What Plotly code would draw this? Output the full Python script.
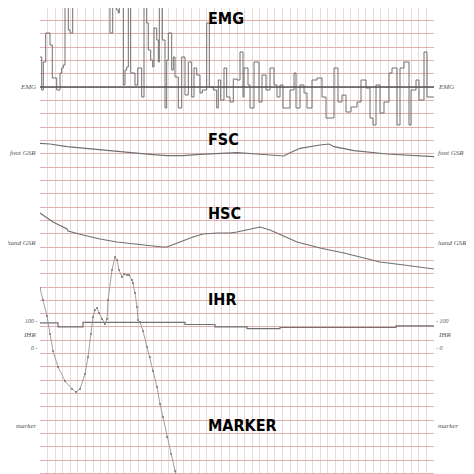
import plotly.graph_objects as go

# time axis: samples across the strip (0 .. 394)
t_end = 394

# EMG (µV), step values starting at emg_t
emg_t = [0, 1.7, 3.3, 5.7, 10, 12.3, 16.7, 20, 21.7, 23.3, 25, 28.3, 30, 32.7, 45, 58, 70, 72.7, 75, 76.7,
         78.3, 79.3, 83.3, 85, 86.7, 88.3, 90.7, 95, 97.7, 101.7, 104, 106.7, 108.3, 110.7, 112.7, 114, 116.7,
         118.3, 119.3, 122.3, 125, 126.7, 128.3, 131.7, 133.3, 135, 138.3, 141.7, 145, 148.3, 151.7, 154, 156.7,
         160, 162.3, 166.7, 169.3, 173.3, 176.7, 178.3, 180.7, 184, 186.7, 190, 193.3, 197, 200, 203, 204, 208,
         210, 214, 219, 222, 226, 230, 234, 237, 240, 243, 250, 254, 256, 260, 264, 267, 272, 277, 282, 286,
         294, 298, 302, 306, 311, 317, 321, 326, 330, 333, 336, 340, 344, 349, 352, 357, 360, 364, 369, 371,
         376, 379, 384, 387, 394]
emg_uv = [30, -3, 25, 54, 42, 9, -3, 14, 19, 22, 110, 57, 54, 130, 150, 120, 54, 95, 82, 77,
          74, 110, 2, 17, 20, 100, 14, 2, 19, -10, 100, 64, 37, 27, 20, 59, 47, 25, 80, 47,
          -21, 27, 54, 17, 30, 10, -21, 30, -8, 25, -10, 19, 12, -6, -3, 64, 0, -3, -21, 7,
          -13, 19, -10, -15, 8, 7, 35, -10, 19, 2, -21, 25, -15, 12, -3, 19, 2, -10, 2, -21,
          -3, 14, -21, 2, -6, -21, 7, 9, -10, -31, 19, -15, -8, -25, -20, -15, 7, -1, -31, -38,
          2, -26, -15, 14, 19, -38, 19, 25, -38, -3, 7, -13, 35, -10, -10]

# foot skin conductance
fsc_t = [0, 10, 27, 43, 60, 77, 93, 110, 127, 143, 160, 177, 197, 217, 244, 249, 260, 280, 289, 294, 314, 347, 394]
fsc = [0.97, 0.9, 0.63, 0.47, 0.37, 0.13, -0.03, -0.13, -0.27, -0.27, -0.13, -0.03, 0.03, -0.1, -0.3, -0.03,
       0.47, 0.8, 0.9, 0.63, 0.23, -0.1, -0.37]

# hand skin conductance
hsc_t = [0, 13, 27, 28, 43, 60, 77, 93, 110, 122, 127, 140, 153, 163, 177, 190, 197, 220, 230, 257, 280, 304,
         340, 364, 394]
hsc = [3.0, 2.1, 1.4, 1.2, 0.8, 0.4, 0.1, -0.1, -0.3, -0.4, -0.4, 0.1, 0.6, 0.9, 1.0, 1.0, 1.1, 1.6, 1.3, 0.1,
       -0.5, -1.0, -1.9, -2.2, -2.6]

# instantaneous heart rate (0-100 scale)
ihr_t = [0, 18, 43, 145, 175, 207, 240, 356, 394]
ihr = [93, 78, 95, 87, 78, 72, 76, 82, 82]

# dotted pulse curve
pulse_t = [0, 3, 7, 10, 13, 18, 25, 32, 36, 40, 45, 48, 51, 53, 55, 57, 59, 62, 65, 67, 68, 72, 75, 77, 79, 82,
           84, 87, 89, 92, 93, 95, 97, 98, 100, 103, 107, 110, 113, 117, 120, 123, 127, 131, 135, 138]
pulse = [32, 20, 4, -14, -31, -47, -61, -69, -72, -69, -54, -37, -14, 3, 10, 12, 7, 1, -4, 1, 20, 50, 63, 60,
         50, 43, 46, 45, 45, 40, 37, 27, 13, 0, -2, -11, -27, -37, -51, -67, -84, -97, -117, -134, -151, -164]

H = 474
PAGE = 8  # default body margin of the html page
label_font = dict(family="Liberation Serif, DejaVu Serif, serif", size=7, color="#555555", style="italic")
title_font = dict(family="Liberation Sans Narrow, DejaVu Sans Condensed, Arial Narrow, sans-serif",
                  size=16, color="black", weight="bold")


def band(zero_px, per_px):
    # axis range so that value 0 sits at zero_px (window px from top) and 1 px = per_px units
    z = zero_px - PAGE
    return [(z - H) * per_px, z * per_px]


fig = go.Figure()
line_col = "#707070"
fig.add_trace(go.Scatter(x=emg_t, y=emg_uv, yaxis="y", mode="lines", line=dict(color=line_col, width=1, shape="hv")))
fig.add_trace(go.Scatter(x=fsc_t, y=fsc, yaxis="y3", mode="lines", line=dict(color=line_col, width=1.2)))
fig.add_trace(go.Scatter(x=hsc_t, y=hsc, yaxis="y4", mode="lines", line=dict(color=line_col, width=1.2)))
fig.add_trace(go.Scatter(x=ihr_t, y=ihr, yaxis="y5", mode="lines", line=dict(color=line_col, width=1.2, shape="hv")))
fig.add_trace(go.Scatter(x=pulse_t, y=pulse, yaxis="y6", mode="lines+markers",
                         line=dict(color="#8a8a8a", width=0.8), marker=dict(size=2, color="#7a7a7a")))

# EMG baseline
fig.add_shape(type="line", xref="paper", x0=0, x1=1, yref="y", y0=0, y1=0, line=dict(color="#555555", width=1.3))

ax = dict(overlaying="y", showgrid=False, showticklabels=False, zeroline=False, fixedrange=True, automargin=False)
fig.update_layout(
    width=474, height=474, margin=dict(l=40 - PAGE, r=40 + PAGE, t=0, b=0, autoexpand=False),
    paper_bgcolor="white", plot_bgcolor="white", showlegend=False,
    xaxis=dict(range=[0, t_end], dtick=t_end / 52, tick0=0, showgrid=True, gridcolor="#e9dada", gridwidth=1,
               showticklabels=False, zeroline=False, showline=True, mirror=True, linecolor="#e3c9c9",
               automargin=False),
    # EMG scale carries the chart-paper rows (one row = 13.33 µV)
    yaxis=dict(range=band(87, 1), tick0=0, dtick=13.333, showgrid=True, gridcolor="#e2b0b0", gridwidth=1,
               showticklabels=False, zeroline=False, automargin=False),
    yaxis3=dict(range=band(153, 0.1), **ax),
    yaxis4=dict(range=band(243, 0.1), **ax),
    yaxis5=dict(range=band(348, 100 / 27), **ax),
    yaxis6=dict(range=band(320, 1), **ax),
    yaxis7=dict(range=band(426, 1), **ax),
)

# side labels tied to each channel's scale
side = [("EMG", "y", 0), ("foot GSR", "y3", 0), ("hand GSR", "y4", 0), ("IHR", "y5", 48), ("marker", "y7", 0)]
for text, yref, yv in side:
    fig.add_annotation(text=text, xref="paper", x=0, xanchor="right", xshift=-2, yref=yref, y=yv,
                       showarrow=False, font=label_font)
    fig.add_annotation(text=text, xref="paper", x=1, xanchor="left", xshift=2, yref=yref, y=yv,
                       showarrow=False, font=label_font)
for v in [0, 100]:
    fig.add_annotation(text=f"{v} -", xref="paper", x=0, xanchor="right", xshift=0, yref="y5", y=v,
                       showarrow=False, font=dict(label_font, size=6))
    fig.add_annotation(text=f"- {v}", xref="paper", x=1, xanchor="left", xshift=0, yref="y5", y=v,
                       showarrow=False, font=dict(label_font, size=6))

# channel titles
titles = [("EMG", "y", 69), ("FSC", "y3", 1.4), ("HSC", "y4", 3.0), ("IHR", "y5", 178), ("MARKER", "y7", 1)]
for text, yref, yv in titles:
    fig.add_annotation(text=text, x=166, xanchor="left", yref=yref, y=yv, showarrow=False, font=title_font)

fig.write_html("out.html")
